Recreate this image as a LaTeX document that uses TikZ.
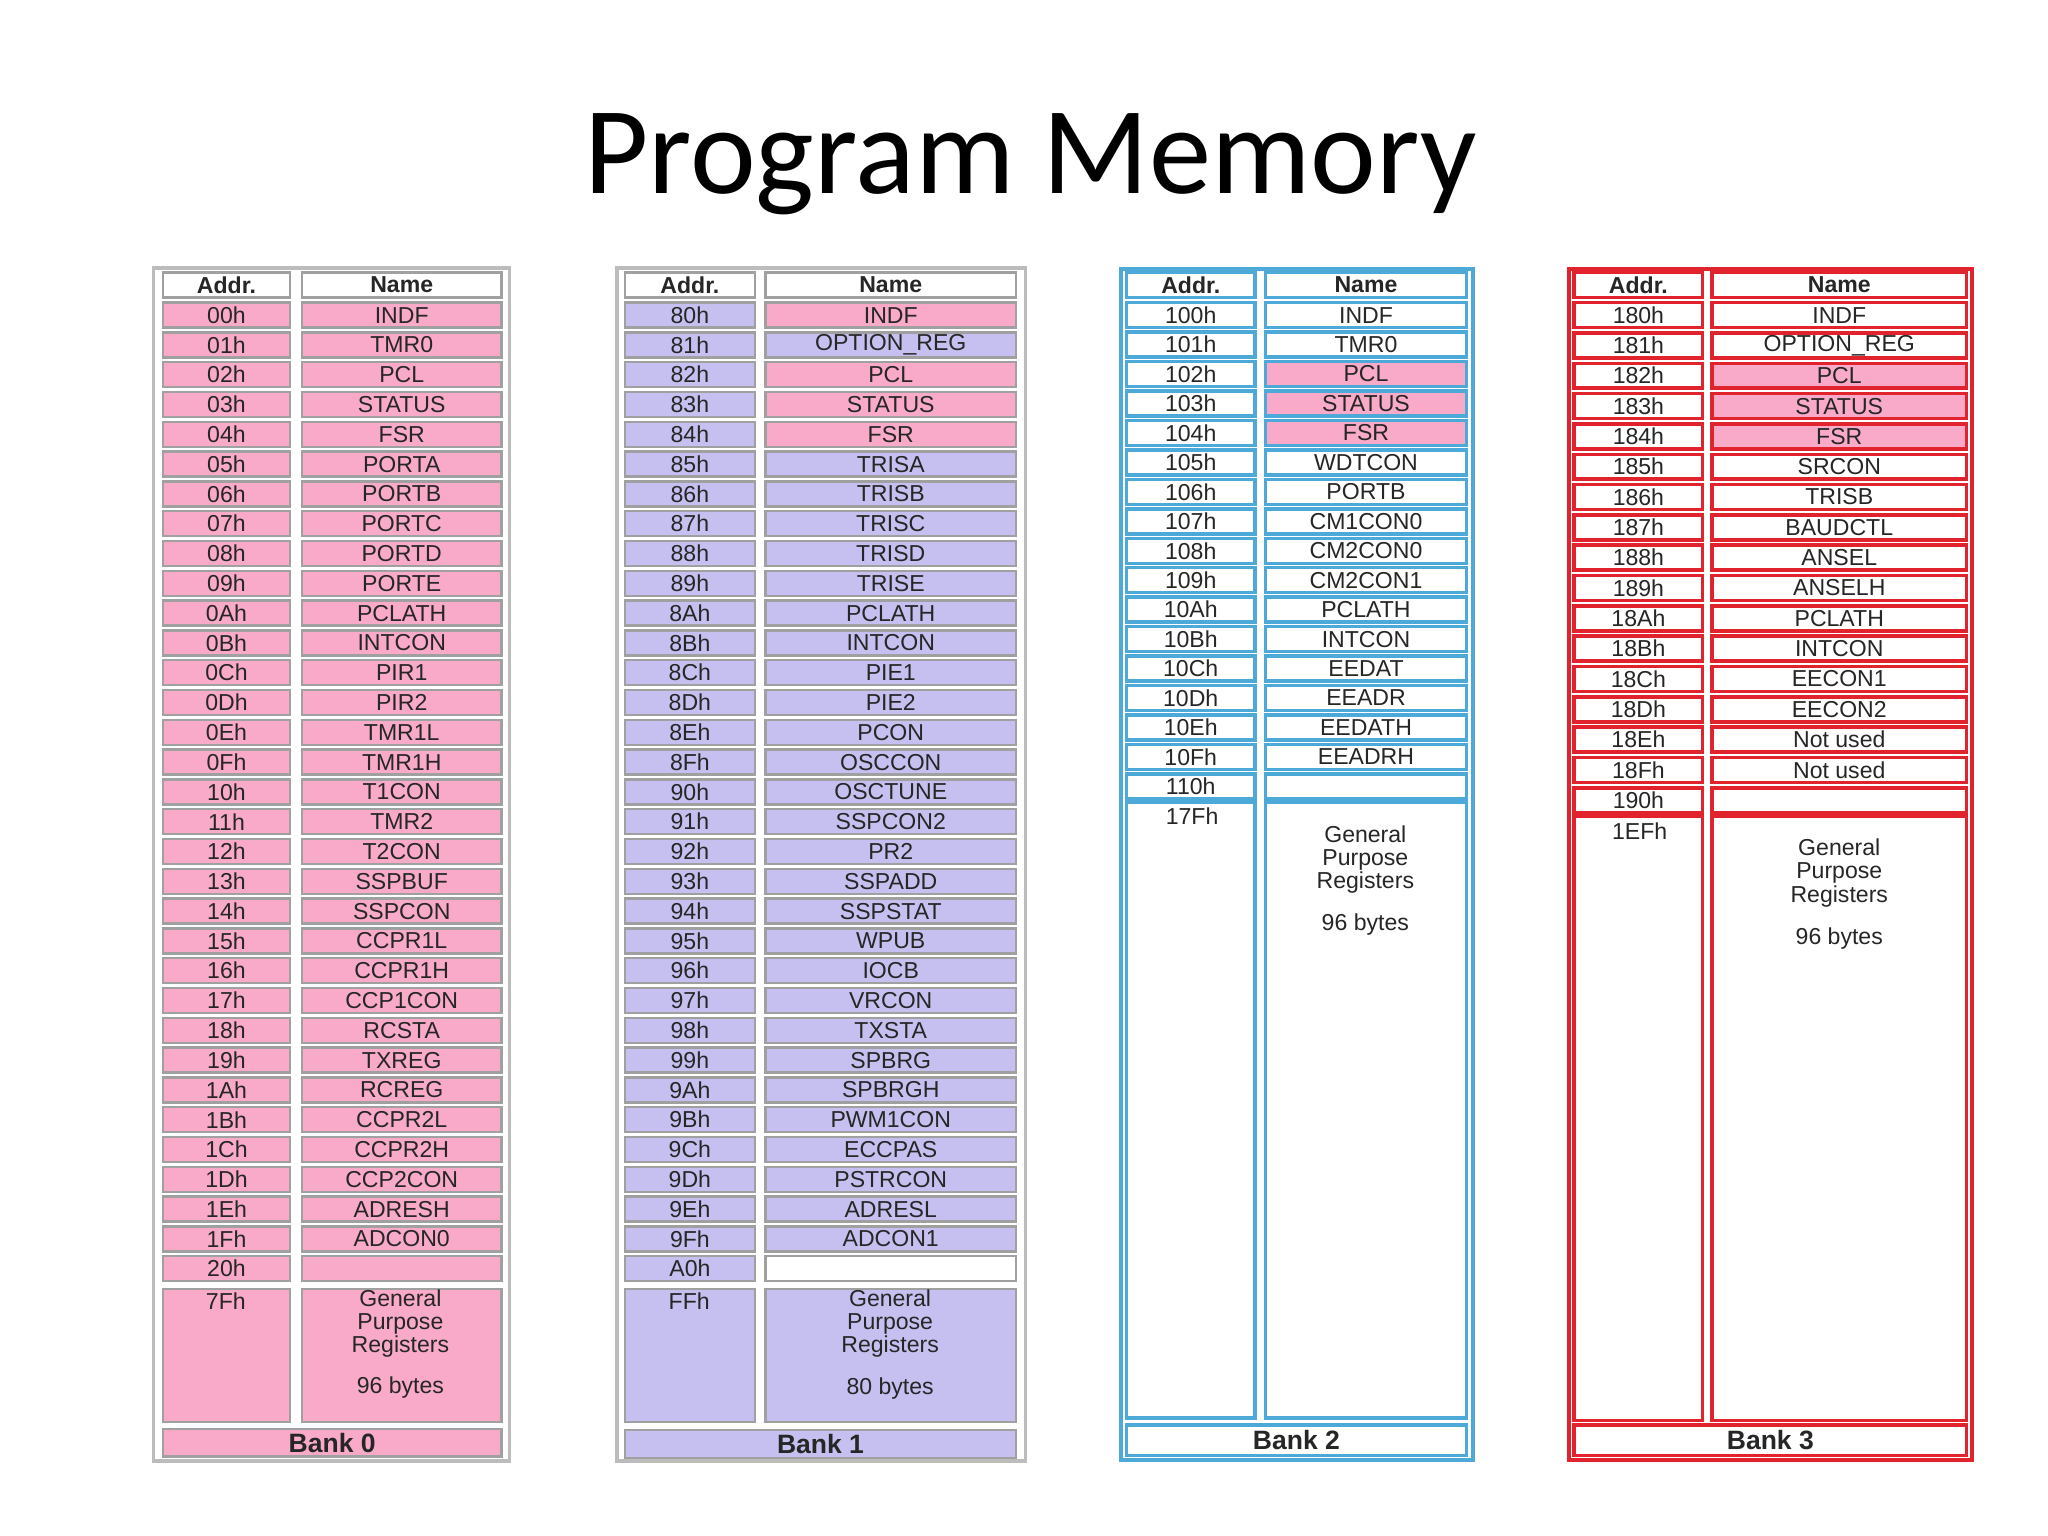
\documentclass[tikz,border=0pt]{standalone}
\usepackage{fontspec}
\setmainfont{Liberation Sans}
\newfontfamily\titlefont{Carlito}
\definecolor{pk}{HTML}{F9AAC8}
\definecolor{lv}{HTML}{C6C0F0}
\definecolor{wh}{HTML}{FFFFFF}
\definecolor{bl}{HTML}{4DAAD8}
\definecolor{rd}{HTML}{E0232C}
\definecolor{gr}{HTML}{A0A0A0}
\newcommand\bankrow[9]{%
 \pgfmathsetmacro\wa{(#2-#1)*0.02}\pgfmathsetmacro\wn{(#4-#3)*0.02}%
 \node[cellst,fill=#8,minimum width=\wa cm] (a#6) at ({(#1+#2)/2},#5) {#6};
 \node[cellst,fill=#9,minimum width=\wn cm] (n#6) at ({(#3+#4)/2},#5) {#7};}
\newcommand\bankhead[5]{%
 \pgfmathsetmacro\wa{(#2-#1)*0.02}\pgfmathsetmacro\wn{(#4-#3)*0.02}%
 \node[cellst,fill=white,minimum width=\wa cm,font=\fontsize{10}{12}\selectfont\bfseries] (ha#5) at ({(#1+#2)/2},217) {Addr.};
 \node[cellst,fill=white,minimum width=\wn cm,font=\fontsize{10}{12}\selectfont\bfseries] (hn#5) at ({(#3+#4)/2},217) {Name};}
\begin{document}
\begin{tikzpicture}[x=0.02cm,y=-0.02cm,
 cellst/.style={draw=bd,inner sep=0pt,minimum height=0.38cm,font=\fontsize{10}{12}\selectfont,text=black!85,line width=\lw},
 blk/.style={draw=bd,line width=\lw},
 txt/.style={font=\fontsize{10}{12}\selectfont,text=black!85,inner sep=0pt}]
\useasboundingbox[fill=white] (0,0) rectangle (1560,1170);
\node[font=\titlefont\fontsize{54}{60}\selectfont] (title) at (785,125) {Program Memory};
% ---------- Bank 0
\colorlet{bd}{gr}\def\lw{1pt}
\draw[gr!70,line width=1.5pt] (117,204) rectangle (388,1113);
\bankhead{124}{221}{230}{382}{0}
\foreach \ad/\nm [count=\i from 0] in {00h/INDF,01h/TMR0,02h/PCL,03h/STATUS,04h/FSR,05h/PORTA,06h/PORTB,07h/PORTC,08h/PORTD,09h/PORTE,0Ah/PCLATH,0Bh/INTCON,0Ch/PIR1,0Dh/PIR2,0Eh/TMR1L,0Fh/TMR1H,10h/T1CON,11h/TMR2,12h/T2CON,13h/SSPBUF,14h/SSPCON,15h/CCPR1L,16h/CCPR1H,17h/CCP1CON,18h/RCSTA,19h/TXREG,1Ah/RCREG,1Bh/CCPR2L,1Ch/CCPR2H,1Dh/CCP2CON,1Eh/ADRESH,1Fh/ADCON0,20h/{}}
 {\pgfmathsetmacro\yy{240+\i*22.7}\bankrow{124}{221}{230}{382}{\yy}{\ad}{\nm}{pk}{pk}}
\draw[blk,fill=pk] (124,982) rectangle (221,1083);
\draw[blk,fill=pk] (230,982) rectangle (382,1083);
\node[txt] (g0a) at (172,991) {7Fh};
\node[txt,align=center] (g0n) at (305,1008) {General\\[-2pt]Purpose\\[-2pt]Registers};
\node[txt] (g0b) at (305,1057) {96 bytes};
\node[cellst,fill=pk,minimum width=5.16cm,minimum height=0.42cm,font=\fontsize{11.5}{12}\selectfont\bfseries] (b0) at (253,1099) {Bank 0};
% ---------- Bank 1
\draw[gr!70,line width=1.5pt] (470,204) rectangle (781,1113);
\bankhead{476}{575}{583}{774}{1}
\foreach \ad/\nm/\fn [count=\i from 0] in {80h/INDF/pk,81h/OPTION\_REG/lv,82h/PCL/pk,83h/STATUS/pk,84h/FSR/pk,85h/TRISA/lv,86h/TRISB/lv,87h/TRISC/lv,88h/TRISD/lv,89h/TRISE/lv,8Ah/PCLATH/lv,8Bh/INTCON/lv,8Ch/PIE1/lv,8Dh/PIE2/lv,8Eh/PCON/lv,8Fh/OSCCON/lv,90h/OSCTUNE/lv,91h/SSPCON2/lv,92h/PR2/lv,93h/SSPADD/lv,94h/SSPSTAT/lv,95h/WPUB/lv,96h/IOCB/lv,97h/VRCON/lv,98h/TXSTA/lv,99h/SPBRG/lv,9Ah/SPBRGH/lv,9Bh/PWM1CON/lv,9Ch/ECCPAS/lv,9Dh/PSTRCON/lv,9Eh/ADRESL/lv,9Fh/ADCON1/lv,A0h/{}/wh}
 {\pgfmathsetmacro\yy{240+\i*22.7}\bankrow{476}{575}{583}{774}{\yy}{\ad}{\nm}{lv}{\fn}}
\draw[blk,fill=lv] (476,982) rectangle (575,1083);
\draw[blk,fill=lv] (583,982) rectangle (774,1083);
\node[txt] (g1a) at (525,991) {FFh};
\node[txt,align=center] (g1n) at (678,1008) {General\\[-2pt]Purpose\\[-2pt]Registers};
\node[txt] (g1b) at (678,1058) {80 bytes};
\node[cellst,fill=lv,minimum width=5.96cm,minimum height=0.42cm,font=\fontsize{11.5}{12}\selectfont\bfseries] (b1) at (625,1100) {Bank 1};
% ---------- Bank 2
\colorlet{bd}{bl}\def\lw{1.5pt}
\draw[bl,line width=1.5pt,fill=white] (854,205) rectangle (1122,1112);
\bankhead{858}{956}{964}{1117}{2}
\foreach \ad/\nm/\fn [count=\i from 0] in {100h/INDF/wh,101h/TMR0/wh,102h/PCL/pk,103h/STATUS/pk,104h/FSR/pk,105h/WDTCON/wh,106h/PORTB/wh,107h/CM1CON0/wh,108h/CM2CON0/wh,109h/CM2CON1/wh,10Ah/PCLATH/wh,10Bh/INTCON/wh,10Ch/EEDAT/wh,10Dh/EEADR/wh,10Eh/EEDATH/wh,10Fh/EEADRH/wh,110h/{}/wh}
 {\pgfmathsetmacro\yy{240+\i*22.44}\bankrow{858}{956}{964}{1117}{\yy}{\ad}{\nm}{wh}{\fn}}
\draw[blk,fill=white] (858,611) rectangle (956,1080);
\draw[blk,fill=white] (964,611) rectangle (1117,1080);
\node[txt] (g2a) at (908,622) {17Fh};
\node[txt,align=center] (g2n) at (1040,655) {General\\[-2pt]Purpose\\[-2pt]Registers};
\node[txt] (g2b) at (1040,704) {96 bytes};
\node[cellst,fill=white,minimum width=5.18cm,minimum height=0.46cm,font=\fontsize{11.5}{12}\selectfont\bfseries] (b2) at (987.5,1097) {Bank 2};
% ---------- Bank 3
\colorlet{bd}{rd}
\draw[rd,line width=1.5pt,fill=white] (1195,205) rectangle (1502,1112);
\bankhead{1199}{1297}{1304}{1498}{3}
\foreach \ad/\nm/\fn [count=\i from 0] in {180h/INDF/wh,181h/OPTION\_REG/wh,182h/PCL/pk,183h/STATUS/pk,184h/FSR/pk,185h/SRCON/wh,186h/TRISB/wh,187h/BAUDCTL/wh,188h/ANSEL/wh,189h/ANSELH/wh,18Ah/PCLATH/wh,18Bh/INTCON/wh,18Ch/EECON1/wh,18Dh/EECON2/wh,18Eh/Not used/wh,18Fh/Not used/wh,190h/{}/wh}
 {\pgfmathsetmacro\yy{240+\i*23.1}\bankrow{1199}{1297}{1304}{1498}{\yy}{\ad}{\nm}{wh}{\fn}}
\draw[blk,fill=white] (1199,622) rectangle (1297,1082);
\draw[blk,fill=white] (1304,622) rectangle (1498,1082);
\node[txt] (g3a) at (1249,633) {1EFh};
\node[txt,align=center] (g3n) at (1401,665) {General\\[-2pt]Purpose\\[-2pt]Registers};
\node[txt] (g3b) at (1401,715) {96 bytes};
\node[cellst,fill=white,minimum width=5.98cm,minimum height=0.46cm,font=\fontsize{11.5}{12}\selectfont\bfseries] (b3) at (1348.5,1097) {Bank 3};
\end{tikzpicture}
\end{document}
